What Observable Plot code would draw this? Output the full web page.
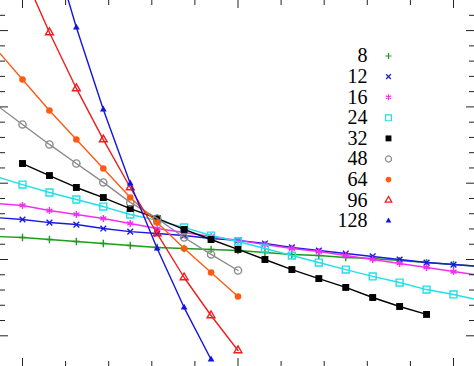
<!DOCTYPE html>
<html><head><meta charset="utf-8">
<script src="https://cdn.jsdelivr.net/npm/d3@7"></script>
<script src="https://cdn.jsdelivr.net/npm/@observablehq/plot@0.6"></script>
<style>body{margin:0;background:#fff}#chart{width:474px;height:366px;overflow:hidden}</style>
</head><body><div id="chart"></div>
<script>
// series labels (legend) and first sample index (x = index/16)
const seriesLabels = ["8", "12", "16", "24", "32", "48", "64", "96", "128"];
const startIndex = [-1, -1, -1, -1, 0, -1, -1, 0, 1];
const y8 = [0.151, 0.144, 0.131, 0.118, 0.105, 0.092, 0.079, 0.072, 0.066, 0.059, 0.046, 0.033, 0.026, 0.013, 0.007, -0.007, -0.020, -0.033, -0.046];
const y12 = [0.275, 0.262, 0.242, 0.229, 0.203, 0.183, 0.170, 0.157, 0.138, 0.125, 0.105, 0.079, 0.059, 0.039, 0.020, 0, -0.020, -0.033, -0.046];
const y16 = [0.367, 0.354, 0.321, 0.295, 0.269, 0.236, 0.203, 0.177, 0.151, 0.125, 0.098, 0.072, 0.052, 0.026, 0, -0.026, -0.052, -0.079, -0.105];
const y24 = [0.544, 0.491, 0.439, 0.393, 0.347, 0.295, 0.256, 0.210, 0.157, 0.118, 0.072, 0.026, -0.020, -0.066, -0.111, -0.151, -0.197, -0.229, -0.269];
const y32 = [0.629, 0.550, 0.472, 0.406, 0.334, 0.269, 0.197, 0.131, 0.066, 0, -0.066, -0.125, -0.183, -0.249, -0.308, -0.360];
const y48 = [1.016, 0.885, 0.754, 0.629, 0.505, 0.374, 0.269, 0.144, 0.033, -0.072];
const y64 = [1.383, 1.180, 0.976, 0.786, 0.596, 0.406, 0.242, 0.072, -0.085, -0.242];
const y96 = [1.887, 1.488, 1.121, 0.786, 0.472, 0.170, -0.118, -0.367, -0.596];
const y128 = [2.117, 1.520, 0.983, 0.498, 0.072, -0.315, -0.655];
const seriesValues = [y8, y12, y16, y24, y32, y48, y64, y96, y128];

// tick values (labels are outside the visible crop)
const xTicks = [0, 0.1, 0.2, 0.3, 0.4, 0.5, 0.6, 0.7, 0.8, 0.9, 1.0];
const xMajor = [0, 0.5, 1.0];
const yTicks = [-0.5, -0.4, -0.3, -0.2, -0.1, 0, 0.1, 0.2, 0.3, 0.4, 0.5, 0.6, 0.7, 0.8, 0.9, 1.0, 1.1, 1.2, 1.3, 1.4, 1.5, 1.6];
const yMajor = [-0.5, 0, 0.5, 1.0, 1.5];

const styles = [
  {color: "#1f9a1f", symbol: "plus", r: 2.5, filled: false},
  {color: "#1a1ae0", symbol: "times", r: 2.7, filled: false},
  {color: "#f030f0", symbol: "asterisk", r: 3.3, filled: false},
  {color: "#1fe0e8", symbol: "square", r: 3.9, filled: false},
  {color: "#000000", symbol: "square", r: 3.9, filled: true},
  {color: "#8a8a8a", symbol: "circle", r: 3.6, filled: false},
  {color: "#ff5a14", symbol: "circle", r: 3.3, filled: true},
  {color: "#f01c1c", symbol: "triangle", r: 2.9, filled: false},
  {color: "#1414e0", symbol: "triangle", r: 2.5, filled: true}
];

const W = 474, H = 366;
const rows = seriesLabels.map((label, s) =>
  seriesValues[s].map((v, i) => ({series: label, x: (startIndex[s] + i) / 16, y: v})));

const marks = [];
rows.forEach((data, s) => {
  const st = styles[s];
  marks.push(Plot.line(data, {x: "x", y: "y", stroke: st.color, strokeWidth: 1.4, clip: true}));
  marks.push(Plot.dot(data, {x: "x", y: "y", symbol: st.symbol, r: st.r, clip: true,
    fill: st.filled ? st.color : "none", stroke: st.filled ? "none" : st.color, strokeWidth: 1.4}));
});

// ticks drawn inward on all four sides
const tk = "#222";
const minorX = xTicks.filter(t => !xMajor.includes(t));
const minorY = yTicks.filter(t => !yMajor.includes(t));
marks.push(
  Plot.tickX(minorX, {x: d => d, insetBottom: H - 5, stroke: tk}),
  Plot.tickX(xMajor, {x: d => d, insetBottom: H - 8, stroke: tk}),
  Plot.tickX(minorX, {x: d => d, insetTop: H - 5, stroke: tk}),
  Plot.tickX(xMajor, {x: d => d, insetTop: H - 8, stroke: tk}),
  Plot.tickY(minorY, {y: d => d, insetRight: W - 5, stroke: tk}),
  Plot.tickY(yMajor, {y: d => d, insetRight: W - 8, stroke: tk}),
  Plot.tickY(minorY, {y: d => d, insetLeft: W - 5, stroke: tk}),
  Plot.tickY(yMajor, {y: d => d, insetLeft: W - 8, stroke: tk})
);

// legend inside the plot area
seriesLabels.forEach((label, s) => {
  const st = styles[s];
  const dy = 55.5 + 20.6 * s;
  marks.push(Plot.text([label], {frameAnchor: "top-left", dx: 367, dy, text: d => d, textAnchor: "end",
    lineAnchor: "middle", fontFamily: "Liberation Serif", fontSize: 20, fill: "#000"}));
  marks.push(Plot.dot([label], {frameAnchor: "top-left", dx: 388, dy, symbol: st.symbol, r: st.r * 0.85,
    fill: st.filled ? st.color : "none", stroke: st.filled ? "none" : st.color, strokeWidth: 1.2}));
});

const chart = Plot.plot({
  width: W, height: H,
  marginLeft: 0, marginRight: 0, marginTop: 0, marginBottom: 0,
  x: {domain: [-22 / 431, 452 / 431], axis: null},
  y: {domain: [-107 / 152.6, 259 / 152.6], axis: null},
  style: {background: "#fff"},
  marks
});
document.getElementById("chart").appendChild(chart);
</script>
</body></html>
